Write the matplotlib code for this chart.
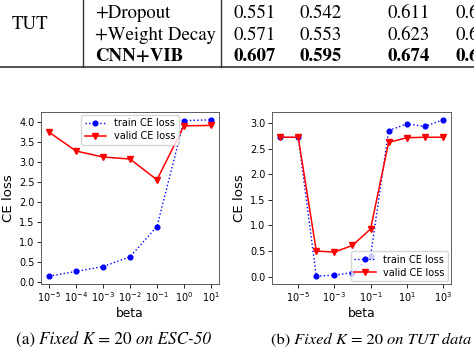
import numpy as np
import matplotlib
matplotlib.use("Agg")
import matplotlib.pyplot as plt
from matplotlib.ticker import FixedLocator, NullLocator, LogFormatterMathtext

# ---- table rows (TUT block, last column is cut by the page edge)
table_group = "TUT"
table_methods = ["+Dropout", "+Weight Decay", "CNN+VIB"]
table_values = [
    ["0.551", "0.542", "0.611", "0.6"],
    ["0.571", "0.553", "0.623", "0.6"],
    ["0.607", "0.595", "0.674", "0.6"],
]

# ---- (a) ESC-50, fixed K = 20
beta_esc = [1e-5, 1e-4, 1e-3, 1e-2, 1e-1, 1e0, 1e1]
train_esc = [0.15, 0.27, 0.39, 0.635, 1.39, 4.04, 4.06]
valid_esc = [3.75, 3.28, 3.13, 3.08, 2.56, 3.91, 3.92]

# ---- (b) TUT, fixed K = 20
beta_tut = [1e-6, 1e-5, 1e-4, 1e-3, 1e-2, 1e-1, 1e0, 1e1, 1e2, 1e3]
train_tut = [2.72, 2.72, 0.01, 0.03, 0.08, 0.40, 2.85, 2.98, 2.93, 3.06]
valid_tut = [2.72, 2.72, 0.50, 0.48, 0.61, 0.93, 2.62, 2.71, 2.72, 2.72]

# caption pieces: (text, italic?)
caption_a = [("(a) ", False), ("Fixed ", True), ("K", True), (" = 20 ", False), ("on ESC-50", True)]
caption_b = [("(b) ", False), ("Fixed ", True), ("K", True), (" = 20 ", False), ("on TUT data", True)]

W, H = 474, 348
fig = plt.figure(figsize=(W / 100, H / 100), dpi=100)
renderer = fig.canvas.get_renderer()


def px(x, y):
    # pixel position (from top-left) to figure fraction
    return x / W, 1 - y / H


serif = "STIXGeneral"

# table
fig.add_artist(plt.Line2D([0, 1], [1 - 66.5 / H] * 2, color="#333333", lw=1.2))
for xv in (83, 221):
    fig.add_artist(plt.Line2D([xv / W] * 2, [1 - 66.5 / H, 1], color="#333333", lw=1.0))
fig.text(*px(30, 29), table_group, family=serif, fontsize=13.5, ha="center", va="baseline")
row_y = [18.5, 39.5, 61]
col_x = [233, 299, 388, 455]
for i, (name, vals) in enumerate(zip(table_methods, table_values)):
    bold = "bold" if i == len(table_methods) - 1 else "normal"
    fig.text(*px(95, row_y[i]), name, family=serif, fontsize=13.5, weight=bold, va="baseline")
    for xv, v in zip(col_x, vals):
        fig.text(*px(xv, row_y[i]), v, family=serif, fontsize=13.5, weight=bold, va="baseline")

ax1 = fig.add_axes([41 / W, 1 - 284 / H, 178 / W, 172 / H])
ax2 = fig.add_axes([272 / W, 1 - 284 / H, 179 / W, 172 / H])

for ax, b, tr, va in ((ax1, beta_esc, train_esc, valid_esc), (ax2, beta_tut, train_tut, valid_tut)):
    ax.plot(b, tr, color="blue", ls=":", lw=1.0, marker="o", ms=3.4, label="train CE loss")
    ax.plot(b, va, color="red", ls="-", lw=1.1, marker="v", ms=4.0, label="valid CE loss")
    ax.set_xscale("log")
    ax.set_xlabel("beta", fontsize=8.8, labelpad=2)
    ax.set_ylabel("CE loss", fontsize=9.6, labelpad=3)
    ax.tick_params(labelsize=7.0, length=2.8, width=0.6, pad=2)
    ax.tick_params(which="minor", length=1.6, width=0.5)
    for s in ax.spines.values():
        s.set_linewidth(0.6)
        s.set_color("#444444")

legend_kw = dict(fontsize=7.0, handlelength=2.2, borderpad=0.35, labelspacing=0.3,
                 handletextpad=0.8, borderaxespad=0.3, framealpha=0.8)

ax1.set_yticks(np.arange(0, 4.01, 0.5))
ax1.xaxis.set_major_locator(FixedLocator([1e-5, 1e-4, 1e-3, 1e-2, 1e-1, 1e0, 1e1]))
ax1.xaxis.set_major_formatter(LogFormatterMathtext())
ax1.legend(loc="upper center", **legend_kw)

ax2.set_yticks(np.arange(0, 3.01, 0.5))
ax2.xaxis.set_major_locator(FixedLocator([1e-5, 1e-3, 1e-1, 1e1, 1e3]))
ax2.xaxis.set_major_formatter(LogFormatterMathtext())
ax2.xaxis.set_minor_locator(NullLocator())
ax2.legend(loc="lower right", **legend_kw)


def caption(x0, x1, y, pieces, size=12.3):
    # lay the roman / italic pieces one after another on one baseline,
    # shrinking the font so the line fits between x0 and x1
    def place(fs):
        x = x0
        drawn = []
        for text, italic in pieces:
            t = fig.text(*px(x, y), text, family=serif, fontsize=fs,
                         style="italic" if italic else "normal", va="baseline")
            drawn.append(t)
            x += t.get_window_extent(renderer).width
        return drawn, x - x0

    drawn, width = place(size)
    if width > x1 - x0:
        for t in drawn:
            t.remove()
        place(size * (x1 - x0) / width)


caption(16, 211, 344, caption_a)
caption(271, 472, 344, caption_b)

fig.savefig("out.png", dpi=100)
